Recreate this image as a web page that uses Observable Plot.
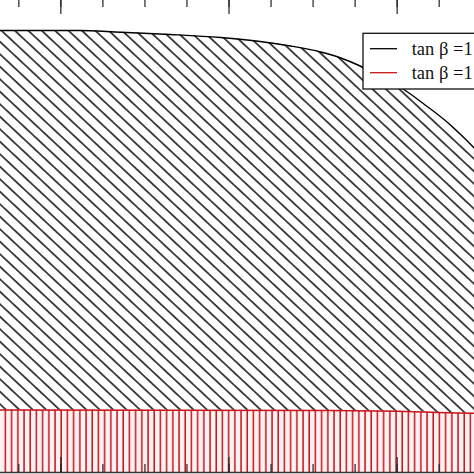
<!DOCTYPE html>
<html><head><meta charset="utf-8">
<script src="https://cdn.jsdelivr.net/npm/d3@7"></script>
<script src="https://cdn.jsdelivr.net/npm/@observablehq/plot@0.6"></script>
<style>
html,body{margin:0;padding:0;background:#fff;overflow:hidden;width:474px;height:474px;}
#chart{position:relative;width:474px;height:474px;overflow:hidden;}
#chart svg{display:block;margin-top:-2px;}
</style></head><body><div id="chart"></div>
<script>
// Black region (tan β = 1, first curve): upper boundary
const blackX = [120, 221, 271, 330, 390, 437, 473, 509, 533, 556, 580, 608, 631, 660, 678, 700];
const blackY = [93.25, 93.25, 92.87, 92.41, 91.77, 90.93, 89.98, 88.71, 87.45, 85.76, 83.54, 80.8, 77.85, 73.84, 70.89, 66.9];
// Red region (tan β = 1, second curve): upper boundary
const redX = [120, 520, 600, 670, 700];
const redY = [13.2, 13.1, 12.9, 12.55, 12.5];
// Axis ticks
const minorTicks = [150, 200, 250, 300, 350, 400, 450, 500, 550, 600, 650];
const majorTicks = [200, 400, 600];
// Legend
const legendLabels = ["tan β =1", "tan β =1"];
const seriesColors = ["#000000", "#c8141c"];

const blackData = blackX.map((x, i) => ({x, y: blackY[i]}));
const redData = redX.map((x, i) => ({x, y: redY[i]}));

const svg = Plot.plot({
  width: 474, height: 476,
  marginTop: 0, marginBottom: 2, marginLeft: 0, marginRight: 0,
  x: {domain: [128.2, 692.0], axis: null},
  y: {domain: [0, 100], axis: null},
  style: {background: "transparent"},
  marks: [
    Plot.areaY(blackData, {x: "x", y: "y", fill: "url(#hatchBlack)", curve: "monotone-x"}),
    Plot.lineY(blackData, {x: "x", y: "y", stroke: seriesColors[0], strokeWidth: 1.4, curve: "monotone-x"}),
    Plot.areaY(redData, {x: "x", y: "y", fill: "#fdf2f2"}),
    Plot.areaY(redData, {x: "x", y: "y", fill: "url(#hatchRed)"}),
    Plot.lineY(redData, {x: "x", y: "y", stroke: seriesColors[1], strokeWidth: 1.5}),
    Plot.ruleY([0], {stroke: "#333", strokeWidth: 1.5}),
    Plot.axisX(minorTicks, {anchor: "top", tickSize: -8, fill: null, stroke: "#222", strokeWidth: 1.2}),
    Plot.axisX(majorTicks, {anchor: "top", tickSize: -15, fill: null, stroke: "#222", strokeWidth: 1.2}),
    Plot.axisX(minorTicks, {anchor: "bottom", tickSize: -8, fill: null, stroke: "#222", strokeWidth: 1.2}),
    Plot.axisX(majorTicks, {anchor: "bottom", tickSize: -15, fill: null, stroke: "#222", strokeWidth: 1.2})
  ]
});

const s = d3.select(svg);
const defs = s.insert("defs", ":first-child");
const pb = defs.append("pattern").attr("id", "hatchBlack")
  .attr("patternUnits", "userSpaceOnUse").attr("width", 10).attr("height", 9.14)
  .attr("patternTransform", "rotate(43)");
pb.append("line").attr("x1", -1).attr("x2", 11).attr("y1", 4.57).attr("y2", 4.57)
  .attr("stroke", "#000").attr("stroke-width", 1.4);
const pr = defs.append("pattern").attr("id", "hatchRed")
  .attr("patternUnits", "userSpaceOnUse").attr("width", 6.2).attr("height", 10);
pr.append("line").attr("x1", 5.5).attr("x2", 5.5).attr("y1", -1).attr("y2", 11)
  .attr("stroke", seriesColors[1]).attr("stroke-width", 1.6);

// Legend (svg coords = page coords + 2)
const lg = s.append("g").attr("font-family", "'Liberation Serif', 'DejaVu Serif', serif")
  .attr("font-size", 18.5).attr("text-anchor", "start");
lg.append("rect").attr("x", 363).attr("y", 35.3).attr("width", 140).attr("height", 55.7)
  .attr("fill", "#fff").attr("stroke", "#111").attr("stroke-width", 1.3);
legendLabels.forEach((t, i) => {
  const yy = 50.7 + i * 24;
  lg.append("line").attr("x1", 370).attr("x2", 397).attr("y1", yy).attr("y2", yy)
    .attr("stroke", seriesColors[i]).attr("stroke-width", 1.3);
  lg.append("text").attr("x", 411.7).attr("y", yy + 6.3).attr("fill", "#111")
    .attr("text-anchor", "start").text(t);
});

document.getElementById("chart").appendChild(svg);
</script>
</body></html>
